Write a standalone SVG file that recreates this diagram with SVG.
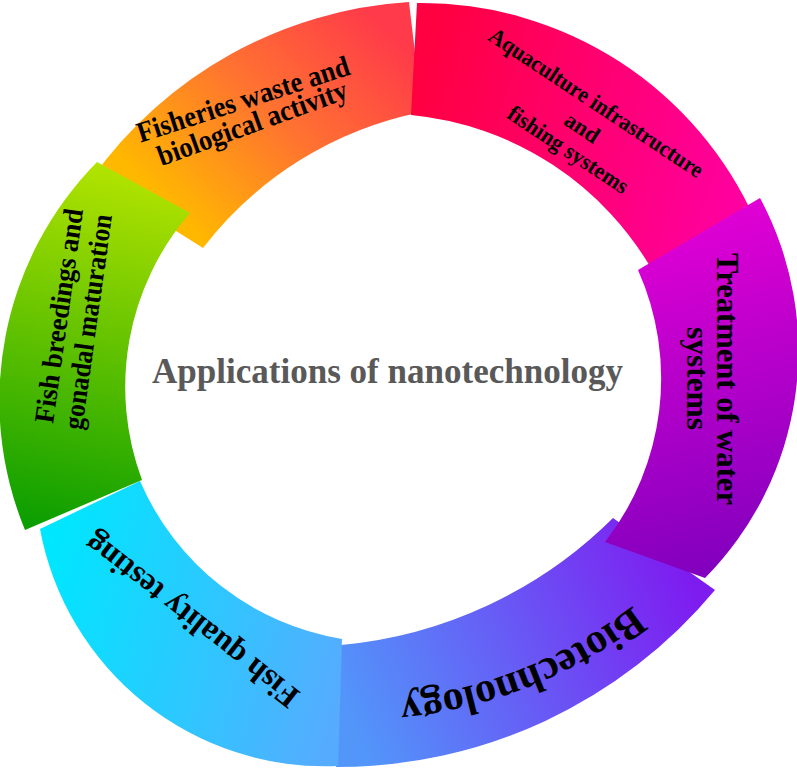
<svg xmlns="http://www.w3.org/2000/svg" width="797" height="769" viewBox="0 0 797 769">
<style>
  .lbl { font-family: "Liberation Serif", "Times New Roman", serif; font-weight: bold; fill: #000; text-anchor: middle; }
  .title { font-family: "Liberation Serif", "Times New Roman", serif; font-weight: bold; fill: #595959; text-anchor: middle; font-size: 35px; }
</style>
<defs>
  <linearGradient id="gOrange" gradientUnits="userSpaceOnUse" x1="200" y1="240" x2="400" y2="40">
    <stop offset="0" stop-color="#FFB800"/>
    <stop offset="0.5" stop-color="#FF7330"/>
    <stop offset="1" stop-color="#FF3A4A"/>
  </linearGradient>
  <linearGradient id="gPink" gradientUnits="userSpaceOnUse" x1="411" y1="100" x2="756" y2="200">
    <stop offset="0" stop-color="#FF0040"/>
    <stop offset="1" stop-color="#FF00A5"/>
  </linearGradient>
  <linearGradient id="gMagenta" gradientUnits="userSpaceOnUse" x1="640" y1="230" x2="720" y2="570">
    <stop offset="0" stop-color="#E000D4"/>
    <stop offset="1" stop-color="#8200BE"/>
  </linearGradient>
  <linearGradient id="gViolet" gradientUnits="userSpaceOnUse" x1="690" y1="580" x2="350" y2="720">
    <stop offset="0" stop-color="#7E1CF0"/>
    <stop offset="1" stop-color="#5296FA"/>
  </linearGradient>
  <linearGradient id="gCyan" gradientUnits="userSpaceOnUse" x1="40" y1="600" x2="342" y2="680">
    <stop offset="0" stop-color="#00E6FF"/>
    <stop offset="1" stop-color="#55ACFF"/>
  </linearGradient>
  <linearGradient id="gGreen" gradientUnits="userSpaceOnUse" x1="140" y1="170" x2="60" y2="530">
    <stop offset="0" stop-color="#B4E400"/>
    <stop offset="1" stop-color="#0C9E00"/>
  </linearGradient>
  <path id="arcBio" d="M 643.9,596.7 A 450 450 0 0 1 385.3,699.1"/>
</defs>

<g id="connectors"/>

<g id="node-fisheries">
  <path d="M 92,178 A 422 422 0 0 1 409,2 L 422,112 A 366 366 0 0 0 203,248 Z" fill="url(#gOrange)"/>
  <text class="lbl" font-size="29" transform="translate(246,108.5) rotate(-18)" textLength="222" lengthAdjust="spacingAndGlyphs">Fisheries waste and</text>
  <text class="lbl" font-size="29" transform="translate(255.5,132) rotate(-20)" textLength="200" lengthAdjust="spacingAndGlyphs">biological activity</text>
</g>

<g id="node-aquaculture">
  <path d="M 417,3 A 366 366 0 0 1 756,222 L 655,275 A 313 313 0 0 0 411,115 Z" fill="url(#gPink)"/>
  <text class="lbl" font-size="23" transform="translate(592,109) rotate(33.5)" textLength="252" lengthAdjust="spacingAndGlyphs">Aquaculture infrastructure</text>
  <text class="lbl" font-size="23" transform="translate(578,134) rotate(33.5)">and</text>
  <text class="lbl" font-size="23" transform="translate(564,156) rotate(33.5)" textLength="140" lengthAdjust="spacingAndGlyphs">fishing systems</text>
</g>

<g id="node-biotechnology">
  <path d="M 715,590 A 491 491 0 0 1 336,767 L 341,645 A 443 443 0 0 0 613,518 Z" fill="url(#gViolet)"/>
  <text class="lbl" font-size="42"><textPath href="#arcBio" startOffset="50%">Biotechnology</textPath></text>
</g>

<g id="node-fish-quality">
  <path d="M 338,766 A 290 290 0 0 1 40,529 L 140,481 A 267 267 0 0 0 342,639 Z" fill="url(#gCyan)"/>
  <text class="lbl" font-size="32" transform="translate(198,612) rotate(218)" textLength="262" lengthAdjust="spacingAndGlyphs">Fish quality testing</text>
</g>

<g id="node-fish-breedings">
  <path d="M 25,530 A 340 340 0 0 1 97,162 L 190,213 A 266 266 0 0 0 142,480 Z" fill="url(#gGreen)"/>
  <text class="lbl" font-size="28" transform="translate(68,317) rotate(-82)" textLength="216" lengthAdjust="spacingAndGlyphs">Fish breedings and</text>
  <text class="lbl" font-size="28" transform="translate(97,323) rotate(-82)" textLength="217" lengthAdjust="spacingAndGlyphs">gonadal maturation</text>
</g>

<g id="node-treatment">
  <path d="M 760,198 A 323 323 0 0 1 705,578 L 605,542 A 266 266 0 0 0 638,270 Z" fill="url(#gMagenta)"/>
  <text class="lbl" font-size="32" transform="translate(717,379) rotate(90)" textLength="252" lengthAdjust="spacingAndGlyphs">Treatment of water</text>
  <text class="lbl" font-size="32" transform="translate(687,378.5) rotate(90)" textLength="103" lengthAdjust="spacingAndGlyphs">systems</text>
</g>

<g id="node-center">
  <text class="title" x="387.5" y="383" textLength="471" lengthAdjust="spacingAndGlyphs">Applications of nanotechnology</text>
</g>
</svg>
